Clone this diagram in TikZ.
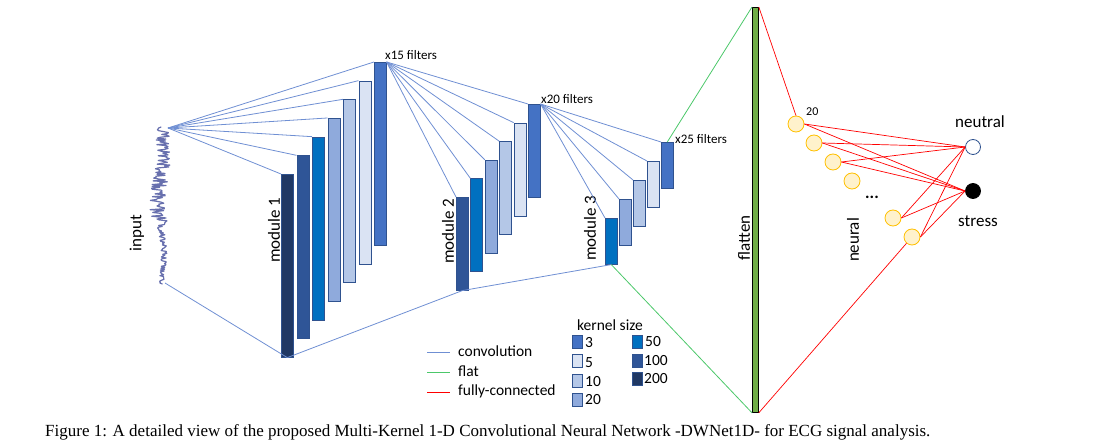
\documentclass[tikz,border=0pt]{standalone}
\usepackage{fontspec}
\setmainfont{Carlito}
\newfontfamily\capfont{Liberation Serif}
\usepackage{xcolor}
\usetikzlibrary{positioning}

\definecolor{kthree}{HTML}{4472C4}
\definecolor{kfive}{HTML}{DAE3F3}
\definecolor{kten}{HTML}{B4C7E7}
\definecolor{ktwenty}{HTML}{8FAADC}
\definecolor{kfifty}{HTML}{0070C0}
\definecolor{khundred}{HTML}{2F5597}
\definecolor{ktwohundred}{HTML}{203864}
\definecolor{barline}{HTML}{2F528F}
\definecolor{convblue}{HTML}{6F8FD3}
\definecolor{flatgreen}{HTML}{4CC86A}
\definecolor{barfill}{HTML}{70AD47}
\definecolor{sigcol}{HTML}{6870AE}
\definecolor{neurfill}{HTML}{FFF2CC}
\definecolor{neurline}{HTML}{FFC000}

\begin{document}
\begin{tikzpicture}[x=1pt,y=-1pt]
  \tikzstyle{bar}=[draw=barline, line width=0.6pt, minimum width=12pt, inner sep=0, anchor=north west]
  \tikzstyle{conv}=[convblue, line width=0.8pt]
  \tikzstyle{flat}=[flatgreen, line width=0.8pt]
  \tikzstyle{fc}=[red, line width=0.7pt]
  \tikzstyle{neuron}=[circle, draw=neurline, fill=neurfill, line width=0.8pt, minimum size=16pt, inner sep=0]
  \tikzstyle{outn}=[circle, draw=barline, fill=white, line width=0.8pt, minimum size=15pt, inner sep=0]
  \tikzstyle{swatch}=[draw=barline, line width=0.6pt, minimum width=10pt, minimum height=13pt, inner sep=0]
  \tikzstyle{lbl}=[font=\fontsize{17}{17}\selectfont]
  \tikzstyle{small}=[font=\fontsize{13}{13}\selectfont, inner sep=0, anchor=west]
  \tikzstyle{legend}=[font=\fontsize{15.5}{15.5}\selectfont, inner sep=0, anchor=west]

  \useasboundingbox (0,0) rectangle (1120,446);

  % input signal
  \pgfmathsetseed{11}
  \draw[sigcol, line width=1.2pt, line join=round]
    plot[domain=0:157, samples=170]
    ({161+3*sin(\x*3.5)+((\x<98)?8:3)*rand}, {\x+127});
  \coordinate (src) at (168,128);
  \coordinate (srcbot) at (165,283);
  \node[lbl, rotate=90] (inlabel) at (137,233) {input};

  % module 1
  \foreach \i/\c in {1/ktwohundred,2/khundred,3/kfifty,4/ktwenty,5/kten,6/kfive,7/kthree}
    \node[bar, fill=\c, minimum height=183pt] (ma\i) at ({281+(\i-1)*15.5}, {174-(\i-1)*18.67}) {};
  \node[lbl, rotate=90] (malabel) at (274,230) {module 1};
  \node[small] (mafilt) at (385,55) {x15 filters};

  % module 2
  \foreach \i/\c in {1/khundred,2/kfifty,3/ktwenty,4/kten,5/kfive,6/kthree}
    \node[bar, fill=\c, minimum height=93pt] (mb\i) at ({456+(\i-1)*14.4}, {197-(\i-1)*18.6}) {};
  \node[lbl, rotate=90] (mblabel) at (448,231) {module 2};
  \node[small] (mbfilt) at (541,99) {x20 filters};

  % module 3
  \foreach \i/\c in {1/kfifty,2/ktwenty,3/kten,4/kfive,5/kthree}
    \node[bar, fill=\c, minimum height=46pt] (mc\i) at ({605+(\i-1)*14}, {218-(\i-1)*19}) {};
  \node[lbl, rotate=90] (mclabel) at (590,228) {module 3};
  \node[small] (mcfilt) at (675,139) {x25 filters};

  % convolution fans
  \foreach \i in {1,...,7}
    \draw[conv] (src) -- (ma\i.north west);
  \draw[conv] (srcbot) -- (ma1.south);
  \foreach \i in {1,...,6}
    \draw[conv] (ma7.north east) -- (mb\i.north west);
  \draw[conv] (ma1.south) -- (mb1.south);
  \foreach \i in {1,...,5}
    \draw[conv] (mb6.north east) -- (mc\i.north west);
  \draw[conv] (mb1.south) -- (mc1.south);

  % flatten
  \node[draw=black, fill=barfill, line width=0.8pt, minimum width=6pt, minimum height=405pt, inner sep=0, anchor=north west] (flat) at (752,7) {};
  \node[lbl, rotate=90] (flatlabel) at (744,238) {flatten};
  \draw[flat] (mc5.north) -- (flat.north west);
  \draw[flat] (mc1.south) -- (flat.south west);

  % dense layer
  \node[neuron] (n1) at (796,124) {};
  \node[neuron] (n2) at (814,143) {};
  \node[neuron] (n3) at (833,162) {};
  \node[neuron] (n4) at (852,181) {};
  \node[neuron] (n5) at (893,218) {};
  \node[neuron] (n6) at (912,237) {};
  \node[font=\fontsize{17}{17}\selectfont\bfseries, inner sep=0] (dots) at (872,197) {...};
  \node[small, font=\fontsize{12}{12}\selectfont] (ncount) at (806,112) {20};
  \node[lbl, rotate=90] (neurlabel) at (853,240) {neural};

  % outputs
  \node[outn] (neutral) at (973,147) {};
  \node[outn, fill=black, draw=black] (stress) at (973,191) {};
  \node[lbl] (neutrallbl) at (980,122) {neutral};
  \node[lbl] (stresslbl) at (978,221) {stress};

  \draw[fc] (flat.north east) -- (n1.north);
  \draw[fc] (flat.south east) -- (n6);
  \foreach \n in {n1,n2,n3,n5,n6} {
    \draw[fc] (\n.east) -- (neutral.west);
    \draw[fc] (\n.east) -- (stress.west);
  }

  % legend
  \coordinate (lgconv) at (427,352);
  \coordinate (lgflat) at (427,372);
  \coordinate (lgfc) at (427,392);
  \draw[conv] (lgconv) -- ++(23,0);
  \draw[flat] (lgflat) -- ++(23,0);
  \draw[fc] (lgfc) -- ++(23,0);
  \node[legend] (lgconvtxt) at (458,351) {convolution};
  \node[legend] (lgflattxt) at (458,371) {flat};
  \node[legend] (lgfctxt) at (458,391) {fully-connected};

  \node[legend, anchor=center] (kernel) at (610,325) {kernel size};
  \node[swatch, fill=kthree] (s3) at (577,342) {};
  \node[swatch, fill=kfive] (s5) at (577,361) {};
  \node[swatch, fill=kten] (s10) at (577,381) {};
  \node[swatch, fill=ktwenty] (s20) at (577,400) {};
  \node[swatch, fill=kfifty] (s50) at (637,342) {};
  \node[swatch, fill=khundred] (s100) at (637,361) {};
  \node[swatch, fill=ktwohundred] (s200) at (637,379) {};
  \node[legend] (s3txt) at (585,343) {3};
  \node[legend] (s5txt) at (585,363) {5};
  \node[legend] (s10txt) at (585,382) {10};
  \node[legend] (s20txt) at (585,400) {20};
  \node[legend] (s50txt) at (645,342) {50};
  \node[legend] (s100txt) at (644,361) {100};
  \node[legend] (s200txt) at (644,379) {200};

  % caption
  \node[anchor=west, inner sep=0, font=\capfont\fontsize{17}{17}\selectfont] (caption) at (45,432)
    {Figure 1: A detailed view of the proposed Multi-Kernel 1-D Convolutional Neural Network -DWNet1D- for ECG signal analysis.};
\end{tikzpicture}
\end{document}
